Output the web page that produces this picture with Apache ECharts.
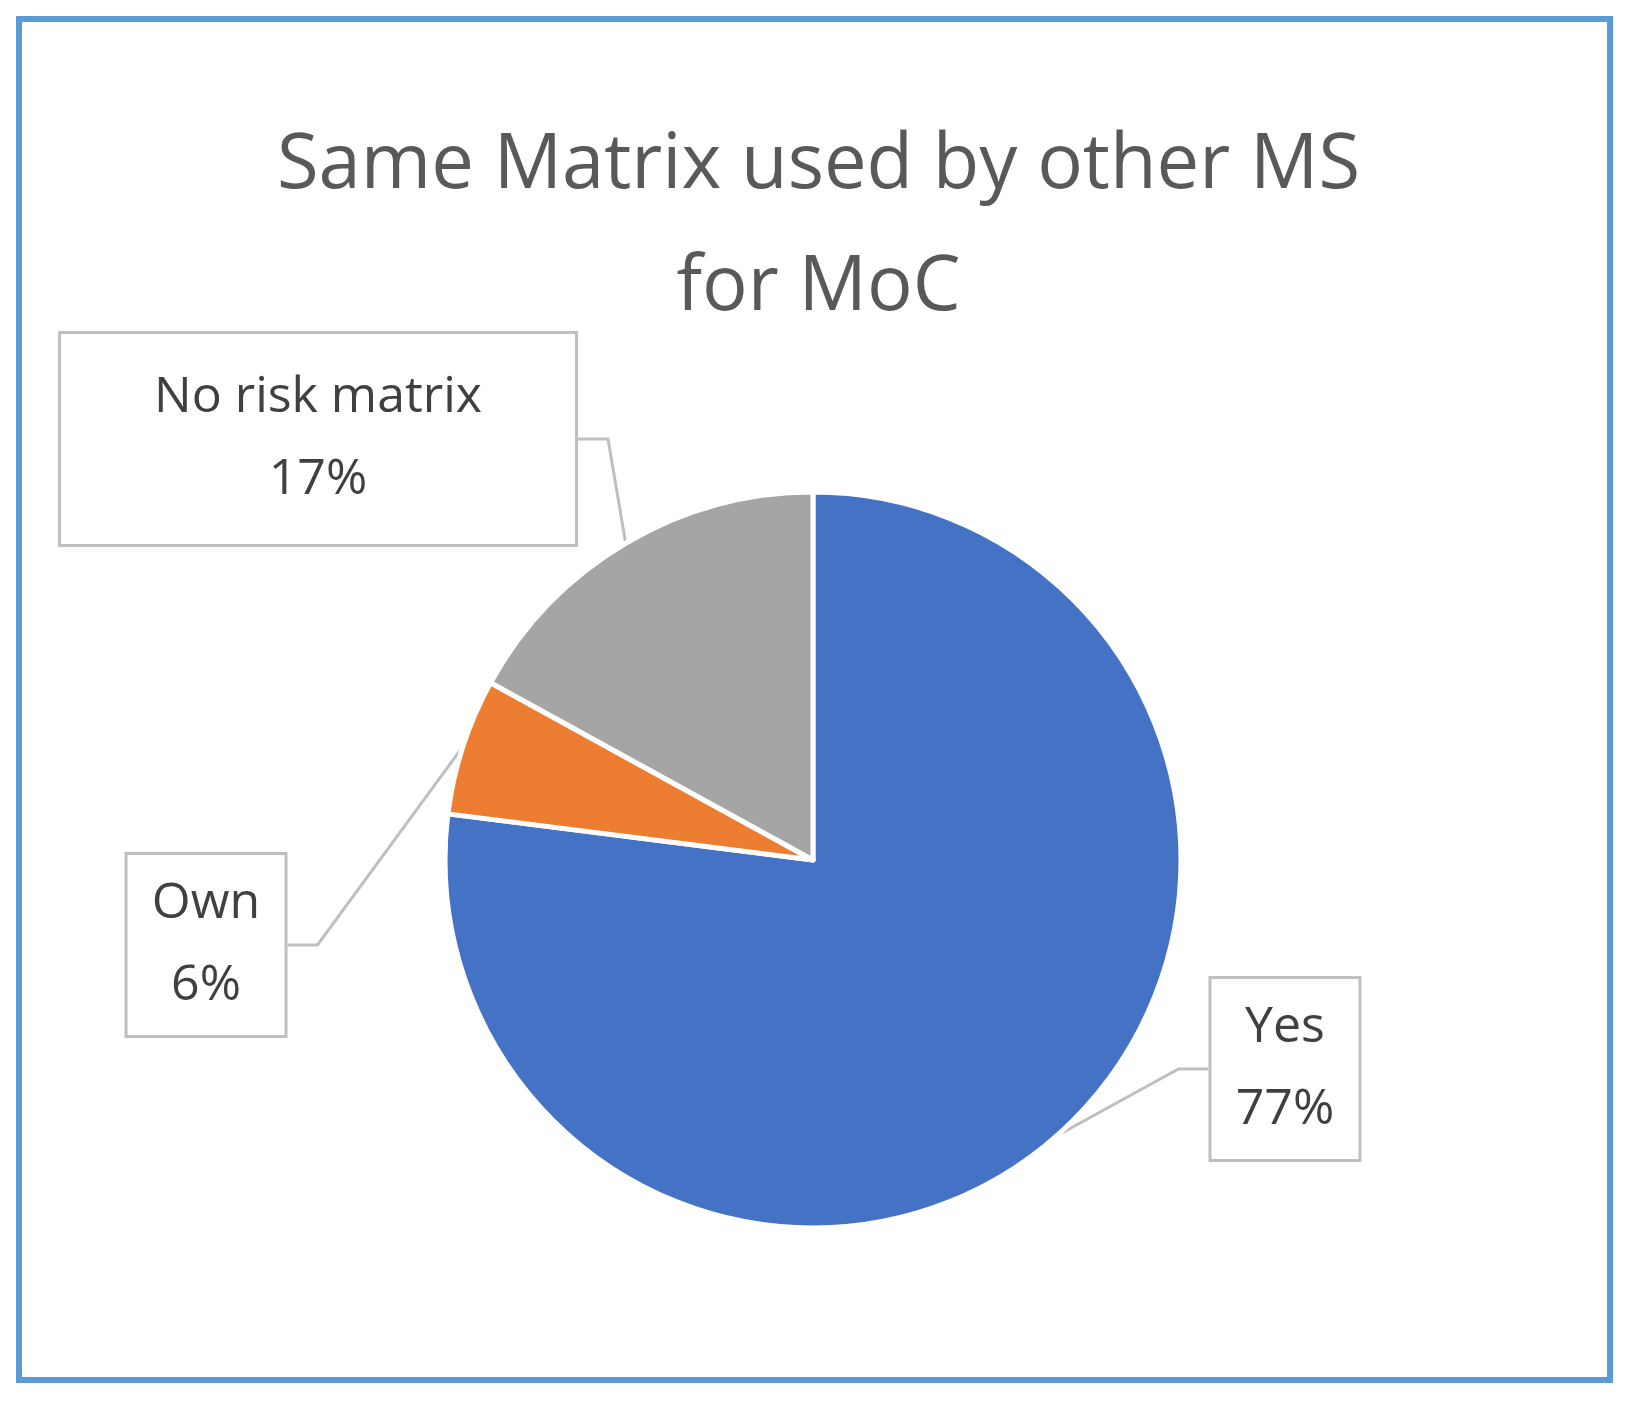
<!DOCTYPE html><html><head><meta charset="utf-8"><script src="https://cdn.jsdelivr.net/npm/echarts@6/dist/echarts.min.js"></script>
<style>html,body{margin:0;background:#fff}#c{width:1637px;height:1404px}</style></head><body><div id="c"></div><script>
const categories=['Yes','Own','No risk matrix'];
const values=[77,6,17];
const colors=['#4472c4','#ed7d31','#a5a5a5'];
const boxes=[{x:1285,y:1069,w:153,h:186},{x:206,y:945,w:163,h:186},{x:318,y:439,w:520,h:216}];
const chart=echarts.init(document.getElementById('c'));
chart.setOption({
 animation:false,
 graphic:[{type:'rect',shape:{x:19,y:19,width:1591,height:1361},style:{fill:'none',stroke:'#5b9bd5',lineWidth:6}}],
 title:{text:'Same Matrix used by other MS\nfor MoC',left:'center',top:100,textStyle:{fontFamily:'Open Sans',fontWeight:'normal',fontSize:76,color:'#595959',lineHeight:122}},
 series:[{type:'pie',center:[813,860],radius:368,startAngle:90,clockwise:true,
  data:categories.map((c,i)=>({name:c,value:values[i],itemStyle:{color:colors[i]},
   label:{width:boxes[i].w-6,height:boxes[i].h-6}})),
  itemStyle:{borderColor:'#fff',borderWidth:5},
  label:{show:true,formatter:'{b}\n{d}%',fontFamily:'Open Sans',fontSize:50,color:'#404040',lineHeight:82,
   backgroundColor:'#fff',borderColor:'#bfbfbf',borderWidth:3,align:'center',verticalAlign:'middle'},
  labelLine:{show:true,lineStyle:{color:'#bfbfbf',width:3}},
  labelLayout:function(p){const b=boxes[p.dataIndex];return {x:b.x,y:b.y,align:'center',verticalAlign:'middle'};}
 }]
});
</script></body></html>
